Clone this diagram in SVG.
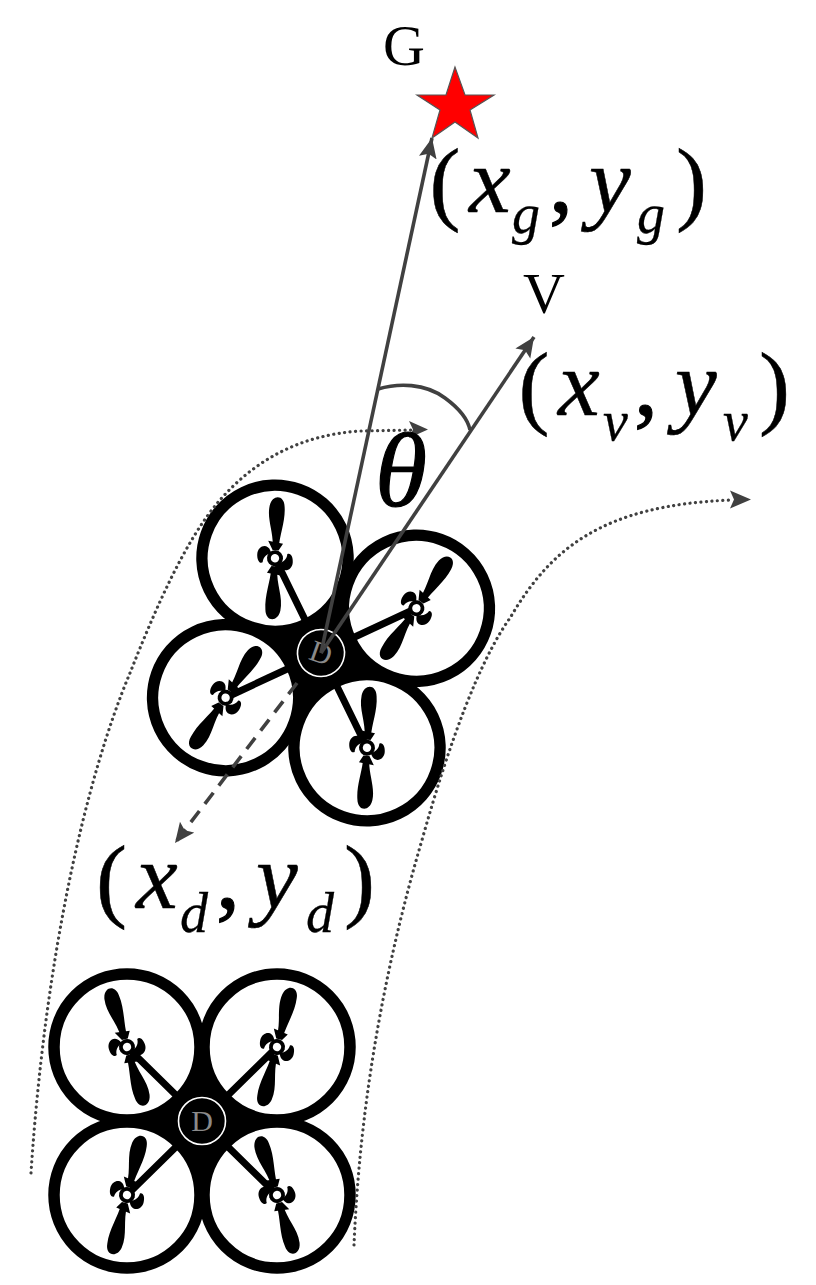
<svg xmlns="http://www.w3.org/2000/svg" xmlns:xlink="http://www.w3.org/1999/xlink" width="816" height="1285" viewBox="0 0 816 1285">
<style>
.ring{fill:#fff;stroke:#000;stroke-width:11.5}
.arm{stroke:#000;stroke-width:7;fill:none}
.conn{stroke:#404040;stroke-width:3.6;fill:none}
.dot{stroke:#404040;stroke-width:3.2;fill:none;stroke-dasharray:0.1 5.4;stroke-linecap:round}
.lab{font-family:"Liberation Serif","Times New Roman",serif;font-size:58px;fill:#000}
.math{font-family:"Liberation Serif","Times New Roman",serif;fill:#000;stroke:#000;stroke-width:.5}
.i{font-style:italic;font-size:94px}
.s{font-style:italic;font-size:56px;stroke-width:.3px}
.p{font-size:93px;stroke-width:.5px}
.c{font-size:96px;stroke-width:1.2px}
</style>
<defs>
<marker id="ah" markerUnits="userSpaceOnUse" markerWidth="22" markerHeight="20" refX="20" refY="9" orient="auto"><path d="M0,0 L20,9 L0,18 L4,9 Z" fill="#404040"/></marker>
<g id="prop">
<path d="M-3,-10 C-3,-26 -11,-38 -9,-52 C-7,-64 5,-64 6,-52 C8,-38 3,-24 3,-10 Z"/>
<path d="M3,10 C3,26 11,38 9,52 C7,64 -5,64 -6,52 C-8,38 -3,24 -3,10 Z"/>
<path d="M-5,-7 C-9,-15 -18,-11 -18,-3 C-18,3 -15,7 -12,5 C-12,1 -10,-3 -4,-5 Z"/>
<path d="M5,7 C9,15 18,11 18,3 C18,-3 15,-7 12,-5 C12,-1 10,3 4,5 Z"/>
<path d="M-8,-17 L7,-15 L3,-8 L-3,-8 Z M8,17 L-7,15 L-3,8 L3,8 Z"/>
<circle r="8"/>
<circle r="4.200" fill="#fff"/>
</g>
<g id="drone">
<path d="M0,-80 L80,0 L0,80 L-80,0 Z"/>
<circle class="ring" cx="-75" cy="-74" r="73"/>
<circle class="ring" cx="75" cy="-74" r="73"/>
<circle class="ring" cx="-75" cy="74" r="73"/>
<circle class="ring" cx="75" cy="74" r="73"/>
<path class="arm" d="M-75,-74 L-18,-18 M75,-74 L18,-18 M-75,74 L-18,18 M75,74 L18,18"/>
<use xlink:href="#prop" href="#prop" transform="translate(-75,-74) rotate(-15.5)"/>
<use xlink:href="#prop" href="#prop" transform="translate(75,-74) rotate(15.5)"/>
<use xlink:href="#prop" href="#prop" transform="translate(-75,74) rotate(15.5)"/>
<use xlink:href="#prop" href="#prop" transform="translate(75,74) rotate(-15.5)"/>
<circle r="23.500" fill="#000" stroke="#fff" stroke-width="1.600"/>
<text x="0" y="10" text-anchor="middle" style="font-family:'Liberation Serif',serif;font-size:30px;fill:#8a8a8a">D</text>
</g>
</defs>

<g id="drone-lower"><use xlink:href="#drone" href="#drone" transform="translate(202,1121)"/></g>
<g id="drone-upper"><use xlink:href="#drone" href="#drone" transform="translate(321,653) rotate(19.5)"/></g>

<g id="goal-star"><polygon points="455,67 446,95 417,95 440,110 432,138 455,122 478,138 470,110 494,95 465,95" fill="#ff0000" stroke="#555" stroke-width="1.200"/></g>

<g id="connectors">
<path class="dot" d="M31,1173 C45,960 85,780 130,673 C155,610 185,540 220,500 C255,460 300,435 360,431 L412,430"/>
<path d="M409,421 L428,429.500 L409,438 L413,429.500 Z" fill="#404040"/>
<path class="dot" d="M354,1245 C358,1150 372,1010 422,840 C450,740 480,660 510,618 C550,550 600,505 732,500"/>
<path d="M730,490.500 L751,499.500 L730,508.500 L734,499.500 Z" fill="#404040"/>
<line class="conn" x1="321" y1="653" x2="432" y2="138" marker-end="url(#ah)"/>
<line class="conn" x1="321" y1="653" x2="534" y2="337" marker-end="url(#ah)"/>
<line class="conn" x1="297" y1="683" x2="175" y2="843" stroke-dasharray="14 9" marker-end="url(#ah)"/>
<path class="conn" d="M378,389 C398,383 425,383 445,398 C460,409 468,420 470,430"/>
</g>

<g id="labels">
<text class="lab" x="383" y="65">G</text>
<text class="lab" x="523" y="313">V</text>
<text class="math"><tspan class="p" x="429.500" y="213">(</tspan><tspan class="i" x="469" y="212">x</tspan><tspan class="s" x="512" y="233">g</tspan><tspan class="c" x="549" y="212">,</tspan><tspan class="i" x="589" y="212">y</tspan><tspan class="s" x="637" y="233">g</tspan><tspan class="p" x="676" y="213">)</tspan></text>
<text class="math"><tspan class="p" x="518.500" y="417">(</tspan><tspan class="i" x="558" y="415">x</tspan><tspan class="s" x="603" y="440">ν</tspan><tspan class="c" x="634" y="415">,</tspan><tspan class="i" x="675" y="415">y</tspan><tspan class="s" x="723" y="440">ν</tspan><tspan class="p" x="759" y="417">)</tspan></text>
<text class="math"><tspan class="p" x="96" y="910">(</tspan><tspan class="i" x="136" y="908">x</tspan><tspan class="s" x="180" y="932">d</tspan><tspan class="c" x="216" y="908">,</tspan><tspan class="i" x="256" y="908">y</tspan><tspan class="s" x="306" y="932">d</tspan><tspan class="p" x="344" y="910">)</tspan></text>
<text class="math" x="375" y="506" style="font-style:italic;font-size:106px;stroke-width:1.200px">θ</text>
</g>
</svg>
